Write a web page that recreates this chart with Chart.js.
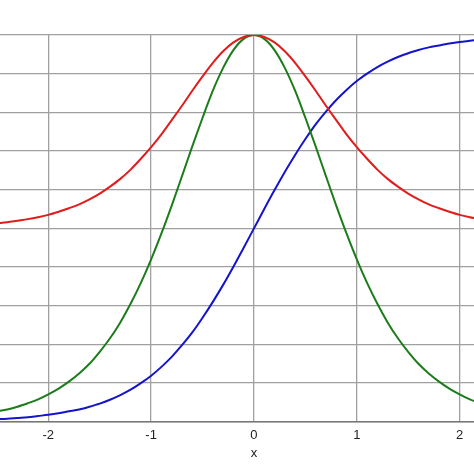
<!DOCTYPE html>
<html>
<head>
<meta charset="utf-8">
<script src="https://cdn.jsdelivr.net/npm/chart.js@4/dist/chart.umd.min.js"></script>
<style>
html,body{margin:0;padding:0;background:#fff;}
#wrap{width:474px;height:474px;}
</style>
</head>
<body>
<div id="wrap"><canvas id="c" width="474" height="474"></canvas></div>
<script>
const xs = [-2.5,-2.4,-2.3,-2.2,-2.1,-2.0,-1.9,-1.8,-1.7,-1.6,-1.5,-1.4,-1.3,-1.2,-1.1,-1.0,-0.9,-0.8,-0.7,-0.6,-0.5,-0.4,-0.3,-0.2,-0.1,0.0,0.1,0.2,0.3,0.4,0.5,0.6,0.7,0.8,0.9,1.0,1.1,1.2,1.3,1.4,1.5,1.6,1.7,1.8,1.9,2.0,2.1,2.2];
const redVals = [0.513,0.516,0.520,0.524,0.529,0.535,0.543,0.552,0.562,0.575,0.590,0.608,0.628,0.652,0.680,0.710,0.743,0.780,0.817,0.856,0.893,0.928,0.958,0.981,0.995,1.000,0.995,0.981,0.958,0.928,0.893,0.856,0.817,0.780,0.743,0.710,0.680,0.652,0.628,0.608,0.590,0.575,0.562,0.552,0.543,0.535,0.529,0.524];
const greenVals = [0.027,0.032,0.039,0.048,0.058,0.071,0.086,0.104,0.125,0.150,0.181,0.216,0.257,0.305,0.359,0.420,0.487,0.559,0.635,0.712,0.786,0.856,0.915,0.961,0.990,1.000,0.990,0.961,0.915,0.856,0.786,0.712,0.635,0.559,0.487,0.420,0.359,0.305,0.257,0.216,0.181,0.150,0.125,0.104,0.086,0.071,0.058,0.048];
const blueVals = [0.007,0.008,0.010,0.012,0.015,0.018,0.022,0.027,0.032,0.039,0.047,0.057,0.069,0.083,0.100,0.119,0.142,0.168,0.198,0.231,0.269,0.310,0.354,0.401,0.450,0.500,0.550,0.599,0.646,0.690,0.731,0.769,0.802,0.832,0.858,0.881,0.900,0.917,0.931,0.943,0.953,0.961,0.968,0.973,0.978,0.982,0.985,0.988];
const xTickValues = [-2,-1,0,1,2];
const xTitle = 'x';

const toPts = vals => xs.map((x,i)=>({x:x,y:vals[i]}));
const mk = (vals,color) => ({data:toPts(vals),borderColor:color,borderWidth:2,pointRadius:0,fill:false,tension:0.4,cubicInterpolationMode:'monotone'});

const titlePlugin = {
  id:'xTitleAtZero',
  afterDraw(chart){
    const ctx = chart.ctx, sx = chart.scales.x;
    ctx.save();
    ctx.font = '13px "Liberation Sans"';
    ctx.fillStyle = '#222';
    ctx.textAlign = 'center';
    ctx.textBaseline = 'middle';
    ctx.fillText(xTitle, sx.getPixelForValue(0), chart.chartArea.bottom + 32);
    ctx.restore();
  }
};

new Chart(document.getElementById('c'),{
  type:'line',
  data:{datasets:[mk(redVals,'#e01c1c'),mk(greenVals,'#1c7c1c'),mk(blueVals,'#1414cc')]},
  plugins:[titlePlugin],
  options:{
    responsive:false,
    animation:false,
    layout:{padding:{top:35,bottom:7,left:0,right:0}},
    plugins:{legend:{display:false},tooltip:{enabled:false}},
    scales:{
      x:{
        type:'linear',min:-2.47,max:2.14,
        afterBuildTicks:(s)=>{s.ticks = xTickValues.map(v=>({value:v}));},
        ticks:{includeBounds:false,padding:6,color:'#222',font:{family:'Liberation Sans',size:13},maxRotation:0,autoSkip:false},
        grid:{color:'#a0a0a0',lineWidth:1.3,drawTicks:false},
        border:{display:true,color:'#777',width:1.5},
        title:{display:true,text:xTitle,color:'rgba(0,0,0,0)',font:{family:'Liberation Sans',size:13},padding:{top:2,bottom:0}}
      },
      y:{
        type:'linear',min:0,max:1,
        ticks:{display:false,stepSize:0.1},
        grid:{color:'#a0a0a0',lineWidth:1.3,drawTicks:false},
        border:{display:false}
      }
    }
  }
});
</script>
</body>
</html>
